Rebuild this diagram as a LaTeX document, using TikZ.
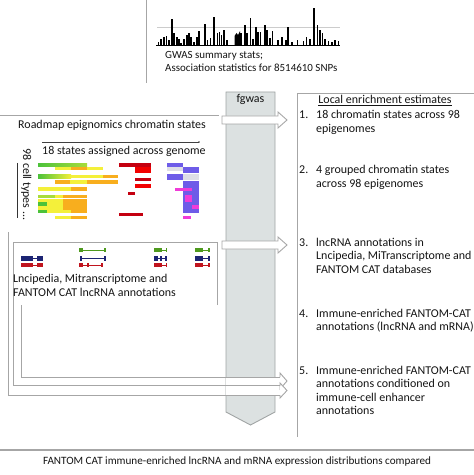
\documentclass[tikz,border=0pt]{standalone}
\usepackage{fontspec}
\setmainfont{Carlito}
\definecolor{lg}{HTML}{A6A6A6}
\definecolor{colfill}{HTML}{DCE1E1}
\definecolor{colline}{HTML}{A0A4A4}
\definecolor{cgreen}{HTML}{4CC23A}
\definecolor{clgreen}{HTML}{A8DC3C}
\definecolor{cyellow}{HTML}{F4F03A}
\definecolor{corange}{HTML}{F8AE1E}
\definecolor{cred}{HTML}{F20000}
\definecolor{cdred}{HTML}{C40010}
\definecolor{cpurple}{HTML}{6E5CE8}
\definecolor{cpgray}{HTML}{DEDEE6}
\definecolor{cmag}{HTML}{F03CD8}
\definecolor{ggreen}{HTML}{4E9A1E}
\definecolor{gblue}{HTML}{1C2473}
\definecolor{gred}{HTML}{C0141E}
\newcommand\cb[4]{\fill[#4] (#1,#3-1.8) rectangle (#2,#3+1.8);}
\newcommand\gb[4]{\fill[#4] (#1,#3-2.3) rectangle (#2,#3+2.3);}
\newcommand\gl[4]{\draw[#4,line width=0.6bp] (#1,#3) -- (#2,#3);}
\begin{document}
\begin{tikzpicture}[x=1bp,y=-1bp,
  txt/.style={font=\fontsize{12}{14}\selectfont, inner sep=0pt, text=black!92},
  stxt/.style={font=\fontsize{11}{13}\selectfont, inner sep=0pt, text=black!92},
  ln/.style={draw=lg, line width=0.9bp},
  hollow/.style={draw=lg, line width=0.9bp, fill=white, line join=miter}]
\useasboundingbox (0,0) rectangle (474,475);

% ---------- GWAS panel ----------
\draw[ln] (146,0) -- (146,83);
\draw[black!20, line width=0.5bp] (157,27) -- (340,27);
\foreach \x/\t in {158.5/41.7,161/39.3,164/37.3,166.5/36,169/40,172/19.3,174/33.3,176.7/37.3,179/39.3,181/42.7,184/39.3,186.7/35,189/33.3,191/37.3,194/41.7,196.7/37.3,199/30.7,204.7/24,207.3/40,210.5/38.3,214/16.7,217.5/33.3,219.5/31.7,221.5/35,224/30,226.7/40,241/33.3,245/25,247/33.3,250.5/18.3,252.7/39.3,255.7/26.7,257.7/31.7,260.5/31.7,264.7/25,267/30,270/38.3,272.5/30.7,278/40,282/36.7,285.7/40,288/26.7,292/41.7,297.5/40,303.3/40.7,306.5/36.7,310/39.3,314/8.3,317.5/25,320/30,322.5/33.3,325/39.3,328.3/40.7,331.7/41.7,335/40,338.3/40.7}
  {\fill[black] (\x-0.8,45) rectangle (\x+0.8,\t);}
\fill[black] (234.5,45) -- (234.5,36) -- (236.5,33) -- (238,35) -- (240,31) -- (240,45) -- cycle;
\draw[black, line width=0.6bp] (156,45) -- (340,45);
\node[stxt, anchor=base west] (gw1) at (165,58.5) {GWAS summary stats;};
\node[stxt, anchor=base west] (gw2) at (165,72) {Association statistics for 8514610 SNPs};

% ---------- fgwas column ----------
\path[fill=colfill, draw=colline, line width=0.9bp] (226,92) -- (275,92) -- (275,412) -- (250.5,425) -- (226,412) -- cycle;
\node[txt, anchor=base] (fg) at (250.5,102.5) {fgwas};

% ---------- Roadmap panel ----------
\draw[ln] (0,115.5) -- (219,115.5);
\draw[hollow] (222,116) -- (278,116) -- (278,112) -- (287,120) -- (278,128) -- (278,124) -- (222,124) -- cycle;
\node[txt, anchor=base west] (rm) at (18,129) {Roadmap epignomics chromatin states};
\draw[black!75, line width=0.6bp] (42,142) -- (199,142);
\fill[black!75] (199,142) circle (0.9);
\node[txt, anchor=base west] (st) at (42,155) {18 states assigned across genome};
\draw[black!80, line width=0.6bp] (17,163) -- (17,218);
\node[txt, rotate=-90, anchor=base west] (ct) at (23,148) {98 cell types ...};

% chromatin state bars
\fill[left color=cgreen, right color=clgreen] (38,163.3) rectangle (87,166.7);
\cb{55}{71}{168.6}{cyellow}\cb{71}{87}{168.6}{corange}\cb{87}{103}{168.6}{cyellow}
\fill[left color=cgreen, right color=cyellow] (38,174.5) rectangle (71,178.3);
\cb{71}{103}{176.4}{cyellow}\cb{103}{118}{176.4}{corange}
\cb{55}{70}{182.3}{corange}\cb{70}{87}{182.3}{cyellow}\cb{87}{118}{182.3}{corange}
\cb{38}{71}{189.3}{cyellow}\cb{71}{87}{189.3}{corange}
\cb{38}{55}{196.7}{clgreen}\cb{55}{63}{196.7}{cyellow}\cb{63}{87}{196.7}{corange}
\cb{38}{63}{200.4}{cyellow}\cb{63}{87}{200.4}{corange}
\cb{38}{47}{204.1}{cgreen}\cb{47}{63}{204.1}{cyellow}\cb{63}{87}{204.1}{corange}
\cb{38}{63}{207.8}{cyellow}\cb{63}{87}{207.8}{corange}
\cb{38}{47}{211.5}{cgreen}\cb{47}{71}{211.5}{cyellow}\cb{71}{87}{211.5}{corange}
\cb{55}{71}{217.7}{cyellow}\cb{71}{87}{217.7}{corange}
% red group
\fill[cred] (135,163.3) rectangle (150.7,173.3);
\fill[cdred] (119.3,163.3) rectangle (150.7,166.7);
\fill[cdred] (135,178) rectangle (150.7,181.3);
\fill[cred] (135,184.3) rectangle (150.7,187.7);
\fill[cdred] (128,192) rectangle (135,195);
\fill[cdred] (119,213) rectangle (143,216.3);
% purple group
\fill[cpurple] (167,163.3) rectangle (183,166.7);
\fill[cpgray] (167,167.3) rectangle (183,170.7);
\fill[cpurple] (183,167) rectangle (199,173.3);
\fill[cpurple] (167,174.3) rectangle (183,180);
\fill[cpgray] (183,174.3) rectangle (199,180);
\fill[cpurple] (183,181) rectangle (199,213);
\fill[cmag] (175,187.8) rectangle (192,191.2);
\fill[cmag] (185,195) rectangle (191.5,202);
\fill[cmag] (192,205) rectangle (199,209);
\fill[cmag] (183,216) rectangle (191,219.3);

% ---------- lncRNA panel ----------
\draw[hollow] (222,241) -- (278,241) -- (278,237) -- (287,245) -- (278,253) -- (278,249) -- (222,249) -- cycle;
\fill[white] (226,377) rectangle (280,395);
\draw[ln] (217,305) -- (217,242) -- (13,242) -- (13,385.5) -- (280,385.5);
\draw[ln] (21,305) -- (21,377) -- (280,377);
\draw[ln] (8,232) -- (8,395) -- (280,395);
\filldraw[hollow] (280,377) -- (280,373) -- (287,381) -- (280,389) -- (280,385.5);
\filldraw[hollow] (280,386) -- (280,383) -- (287,390.5) -- (280,398) -- (280,395);

% gene models
\gb{20.7}{32.7}{258.3}{gblue}\gl{32.7}{36.7}{258.3}{gblue}\gb{36.7}{42.7}{258.3}{gblue}
\gb{20.7}{32.7}{265}{gred}\gl{32.7}{36.7}{265}{gred}\gb{36.7}{42.7}{265}{gred}
\gb{79.3}{83.3}{250}{ggreen}\gl{83.3}{104}{250}{ggreen}\gb{104}{106}{250}{ggreen}
\gb{80}{82}{258.3}{gblue}\gl{82}{104}{258.3}{gblue}\gb{104}{105.5}{258.3}{gblue}
\gb{79.3}{83.3}{265}{gred}\gb{87.3}{88.7}{265}{gred}\gl{83.3}{100.7}{265}{gred}\gb{100.7}{102.7}{265}{gred}
\gb{154}{162}{250}{ggreen}\gl{162}{166}{250}{ggreen}\gb{166}{167.3}{250}{ggreen}
\gb{154.3}{157.7}{258.3}{gblue}\gl{157.7}{165}{258.3}{gblue}\gb{160}{161.7}{258.3}{gblue}\gb{165}{167.3}{258.3}{gblue}
\gb{154}{162}{265}{gred}\gl{162}{166}{265}{gred}\gb{166}{167.3}{265}{gred}
\gb{195}{202.7}{250}{ggreen}\gl{202.7}{208.3}{250}{ggreen}\gb{208.3}{210}{250}{ggreen}
\gb{195}{202.7}{258.3}{gblue}\gl{202.7}{208.3}{258.3}{gblue}\gb{208.3}{210}{258.3}{gblue}
\gb{195}{202.7}{265}{gred}\gl{202.7}{208.3}{265}{gred}\gb{208.3}{210}{265}{gred}
\node[txt, anchor=base west] (lc1) at (13,282) {Lncipedia, Mitranscriptome and};
\node[txt, anchor=base west] (lc2) at (13,296) {FANTOM CAT lncRNA annotations};

% ---------- right box ----------
\draw[ln] (474,93) -- (297,93) -- (297,437);
\node[txt, anchor=base] (hd) at (385,104) {\underline{Local enrichment estimates}};
\foreach \n/\y in {1./119, 2./174, 3./246, 4./317, 5./374}
  {\node[txt, anchor=base west] at (299,\y) {\n};}
\node[txt, anchor=base west] (i1a) at (316,119) {18 chromatin states across 98};
\node[txt, anchor=base west] (i1b) at (316,132.5) {epigenomes};
\node[txt, anchor=base west] (i2a) at (316,174) {4 grouped chromatin states};
\node[txt, anchor=base west] (i2b) at (316,187.5) {across 98 epigenomes};
\node[txt, anchor=base west] (i3a) at (316,246) {lncRNA annotations in};
\node[txt, anchor=base west] (i3b) at (316,259.5) {Lncipedia, MiTranscriptome and};
\node[txt, anchor=base west] (i3c) at (316,273) {FANTOM CAT databases};
\node[txt, anchor=base west] (i4a) at (316,317) {Immune-enriched FANTOM-CAT};
\node[txt, anchor=base west] (i4b) at (316,330.5) {annotations (lncRNA and mRNA)};
\node[txt, anchor=base west] (i5a) at (316,374) {Immune-enriched FANTOM-CAT};
\node[txt, anchor=base west] (i5b) at (316,387.5) {annotations conditioned on};
\node[txt, anchor=base west] (i5c) at (316,401) {immune-cell enhancer};
\node[txt, anchor=base west] (i5d) at (316,414.5) {annotations};

% ---------- bottom bar ----------
\draw[lg, line width=1.2bp] (0,450) -- (474,450);
\node[txt, font=\fontsize{11.2}{13}\selectfont, anchor=base] (bt) at (237,464) {FANTOM CAT immune-enriched lncRNA and mRNA expression distributions compared};
\end{tikzpicture}
\end{document}
